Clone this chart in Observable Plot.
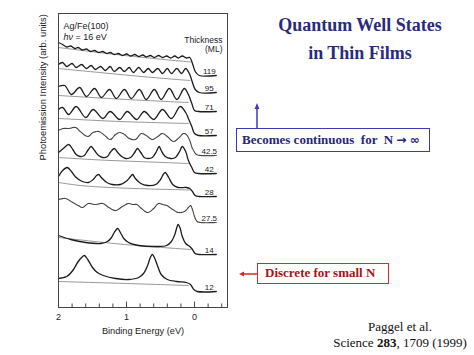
<!DOCTYPE html>
<html>
<head>
<meta charset="utf-8">
<script src="https://cdn.jsdelivr.net/npm/d3@7"></script>
<script src="https://cdn.jsdelivr.net/npm/@observablehq/plot@0.6"></script>
<style>
  html, body { margin: 0; padding: 0; background: #fff; }
  #slide { position: relative; width: 474px; height: 355px; overflow: hidden; background: #fff; }
  #slide > svg { position: absolute; left: 0; top: 0; }
  .serif { font-family: "Liberation Serif", "Times New Roman", serif; position: absolute; }
  .title { font-weight: bold; font-size: 18px; color: #2a2a7e; width: 220px; left: 250px; text-align: center; line-height: 18px; }
  .box { box-sizing: border-box; font-weight: bold; font-size: 13px; white-space: pre; }
  .sym { font-family: "DejaVu Sans", sans-serif; font-weight: bold; font-size: 12px; }
  .cite { font-size: 13px; color: #111; width: 200px; left: 300px; text-align: center; line-height: 14px; }
</style>
</head>
<body>
<div id="slide">
  <div class="serif title" style="top:16px">Quantum Well States</div>
  <div class="serif title" style="top:44px">in Thin Films</div>
  <div class="serif box" style="left:236px;top:128px;width:194px;height:24px;border:1.5px solid #3b3bb3;color:#26267a;padding-left:5px;line-height:21px;">Becomes continuous  for  N <span class="sym">→</span> <span class="sym">∞</span></div>
  <div class="serif box" style="left:257px;top:263px;width:132px;height:21px;border:1.5px solid #d42a2a;color:#a31515;padding-left:7px;line-height:18px;">Discrete for small N</div>
  <div class="serif cite" style="top:320px">Paggel et al.</div>
  <div class="serif cite" style="top:336px">Science <b>283</b>, 1709 (1999)</div>
</div>
<script>
// ---- Data (binding energy in eV, intensity in arb. units) ----
const thickness = ["119", "95", "71", "57", "42.5", "42", "28", "27.5", "14", "12"];
const energyTicks = [2, 1, 0];
const majorInnerTicks = [1, 0];
const minorTicks = [1.8, 1.6, 1.4, 1.2, 0.8, 0.6, 0.4, 0.2, -0.2, -0.4];

const s119 = [[2.00,265],[1.94,263],[1.88,260.5],[1.82,261.5],[1.76,259],[1.71,260],[1.65,257.5],[1.59,258.5],[1.53,256],[1.47,257],[1.41,255],[1.35,256],[1.29,254],[1.24,255],[1.18,253],[1.12,254],[1.06,252],[1.00,253.5],[0.94,251.5],[0.88,253],[0.82,251],[0.76,252.5],[0.71,250.5],[0.65,252],[0.59,250],[0.53,252],[0.47,250],[0.41,251.5],[0.35,249.5],[0.29,251.5],[0.24,249.5],[0.18,251.5],[0.12,249.5],[0.07,250],[0.03,244],[-0.01,236],[-0.07,232],[-0.32,232]];
const b119 = [[2.00,260],[1.03,252],[0.06,245.5]];

const s95 = [[2.00,243],[1.94,245],[1.88,241],[1.80,244],[1.74,240],[1.66,243],[1.59,239],[1.52,242],[1.46,238],[1.38,241],[1.31,237],[1.24,241],[1.18,236],[1.10,240],[1.03,236],[0.96,240],[0.90,235],[0.82,240],[0.75,235],[0.68,239],[0.62,235],[0.54,239],[0.47,234],[0.40,239],[0.34,234],[0.26,239],[0.19,234],[0.13,239],[0.07,233],[0.03,225],[-0.01,218],[-0.07,215],[-0.32,215]];
const b95 = [[2.00,239],[1.40,235],[0.70,230.5],[0.07,227]];

const s71 = [[2.00,221],[1.91,222],[1.81,213],[1.69,220],[1.59,211],[1.47,219],[1.37,210],[1.25,218],[1.15,209],[1.03,218],[0.93,209],[0.81,218],[0.71,208],[0.59,218],[0.49,208],[0.37,219],[0.26,208],[0.15,219],[0.09,213],[0.04,204],[0.00,197],[-0.06,196],[-0.32,196]];
const b71 = [[2.00,212],[1.00,208],[0.09,205]];

const s57 = [[2.00,198],[1.94,200],[1.85,193],[1.74,201],[1.60,190],[1.49,198],[1.35,189],[1.24,196],[1.10,188],[0.99,196],[0.85,188],[0.74,196],[0.60,188],[0.47,198],[0.34,189],[0.21,201],[0.13,195],[0.09,189],[0.04,181],[0.00,174],[-0.06,172],[-0.32,172]];
const b57 = [[2.00,189],[1.10,186],[0.09,184]];

const s42_5 = [[2.00,177],[1.93,179],[1.85,179],[1.75,180],[1.68,176],[1.57,171],[1.49,175],[1.41,176],[1.32,172],[1.24,168],[1.16,173],[1.10,175],[1.03,173],[0.96,169],[0.87,168],[0.78,174],[0.71,172],[0.62,168],[0.54,171],[0.47,174],[0.40,171],[0.31,166],[0.24,169],[0.16,174],[0.12,173],[0.07,167],[0.03,159],[-0.03,153],[-0.09,152],[-0.32,152]];

const s42 = [[2.00,155],[1.93,159],[1.85,163],[1.79,158],[1.74,153],[1.68,151],[1.62,152],[1.57,157],[1.52,161],[1.47,157],[1.41,152],[1.35,150],[1.28,151],[1.24,155],[1.18,159],[1.13,155],[1.07,151],[1.01,149],[0.94,150],[0.88,155],[0.84,159],[0.79,155],[0.74,150],[0.68,149],[0.62,150],[0.56,156],[0.52,161],[0.49,157],[0.43,151],[0.35,149],[0.28,150],[0.22,156],[0.18,161],[0.13,156],[0.09,147],[0.04,140],[0.00,135],[-0.06,134],[-0.32,134]];
const b42 = [[2.00,150],[1.38,147.5],[0.65,145.5],[0.09,144]];

const s28 = [[2.00,131],[1.94,137],[1.87,140],[1.81,136],[1.74,130],[1.65,126],[1.56,125],[1.49,128],[1.44,132],[1.41,133],[1.37,130],[1.29,125],[1.21,123],[1.09,123],[0.99,127],[0.94,131],[0.91,133],[0.87,129],[0.79,124],[0.69,122],[0.57,123],[0.50,128],[0.46,133],[0.43,135],[0.38,130],[0.32,123],[0.24,120],[0.12,120],[0.07,119],[0.03,116],[-0.01,112],[-0.07,111],[-0.32,111]];
const b28 = [[2.00,125],[1.68,122],[1.24,120],[0.65,118.5],[0.06,117.5]];

const s27_5 = [[2.00,108],[1.90,109],[1.79,105],[1.71,102],[1.65,100],[1.56,104],[1.46,103],[1.35,104],[1.26,100],[1.16,97],[1.06,101],[0.97,104],[0.91,103],[0.85,103],[0.78,99],[0.69,95],[0.60,99],[0.53,104],[0.47,103],[0.41,102],[0.32,98],[0.24,95],[0.15,96],[0.09,100],[0.06,102],[0.03,98],[0.00,91],[-0.04,86],[-0.09,85],[-0.32,85]];

const s14 = [[2.00,72],[1.82,68],[1.60,65],[1.38,64],[1.28,66],[1.22,70],[1.18,75],[1.13,79],[1.09,75],[1.04,69],[0.97,65],[0.82,62],[0.57,61],[0.41,62],[0.34,66],[0.29,73],[0.26,80],[0.24,83],[0.21,79],[0.18,71],[0.13,64],[0.07,61],[0.03,58],[-0.01,54],[-0.07,53],[-0.32,53]];
const b14 = [[2.00,70],[1.03,63],[0.06,58]];

const s12 = [[2.00,29],[1.88,31],[1.79,37],[1.71,46],[1.66,50],[1.62,52],[1.57,48],[1.50,40],[1.43,35],[1.34,32],[1.16,29],[0.97,28],[0.82,30],[0.75,34],[0.69,42],[0.65,50],[0.62,53],[0.59,50],[0.54,41],[0.49,33],[0.40,28],[0.26,26],[0.12,25],[0.06,23],[0.01,18],[-0.04,16],[-0.32,16]];
const b12 = [[2.00,26],[1.00,24],[0.09,22]];

const spectra = [
  {label: thickness[0], data: s119, bg: b119, dotted: false},
  {label: thickness[1], data: s95, bg: b95, dotted: false},
  {label: thickness[2], data: s71, bg: b71, dotted: false},
  {label: thickness[3], data: s57, bg: b57, dotted: false},
  {label: thickness[4], data: s42_5, bg: null, dotted: true},
  {label: thickness[5], data: s42, bg: b42, dotted: false},
  {label: thickness[6], data: s28, bg: b28, dotted: false},
  {label: thickness[7], data: s27_5, bg: null, dotted: true},
  {label: thickness[8], data: s14, bg: b14, dotted: false},
  {label: thickness[9], data: s12, bg: b12, dotted: false}
];

const toRows = (s, arr) => arr.map(([E, I]) => ({E, I, id: s.label}));
const solidRows = spectra.filter(s => !s.dotted).flatMap(s => toRows(s, s.data));
const dottedRows = spectra.filter(s => s.dotted).flatMap(s => toRows(s, s.data));
const bgRows = spectra.filter(s => s.bg).flatMap(s => toRows(s, s.bg));
const labelRows = spectra.map(s => { const [E, I] = s.data[s.data.length - 1]; return {E, I, label: s.label}; });

const chart = Plot.plot({
  width: 474,
  height: 355,
  marginLeft: 58,
  marginRight: 247,
  marginTop: 13,
  marginBottom: 48,
  x: {domain: [2, -0.485]},
  y: {domain: [0, 294], axis: null},
  style: {fontFamily: "'Liberation Sans', Arial, sans-serif", background: "transparent", color: "#222"},
  marks: [
    Plot.line(bgRows, {x: "E", y: "I", z: "id", stroke: "#8c8c8c", strokeWidth: 0.9, curve: "catmull-rom"}),
    Plot.line(solidRows, {x: "E", y: "I", z: "id", stroke: "#1c1c1c", strokeWidth: 1.3, curve: "catmull-rom"}),
    Plot.line(dottedRows, {x: "E", y: "I", z: "id", stroke: "#454545", strokeWidth: 1.15, strokeDasharray: "1.6,0.8", curve: "catmull-rom"}),
    Plot.text(labelRows, {x: "E", y: "I", text: "label", dx: -7, dy: -4.5, fontSize: 8, fill: "#222"}),
    Plot.ruleX(minorTicks, {y1: 0, y2: 3.5, stroke: "#333", strokeWidth: 0.9}),
    Plot.ruleX(majorInnerTicks, {y1: 0, y2: 5.5, stroke: "#333", strokeWidth: 0.9}),
    Plot.frame({stroke: "#444", strokeWidth: 1}),
    Plot.axisX({ticks: energyTicks, tickSize: 0, tickPadding: 6, fontSize: 9, label: null, tickFormat: d => `${d}`}),
    Plot.text(["Binding Energy (eV)"], {frameAnchor: "bottom", dy: 26, fontSize: 9.2, fill: "#222"}),
    Plot.text(["Photoemission Intensity (arb. units)"], {frameAnchor: "left", rotate: -90, dx: -16, fontSize: 9.4, fill: "#222"}),
    Plot.text(["Ag/Fe(100)"], {frameAnchor: "top-left", textAnchor: "start", dx: 5, dy: 9, fontSize: 9, fill: "#222"}),
    Plot.text(["hν"], {frameAnchor: "top-left", textAnchor: "start", dx: 5, dy: 20, fontSize: 9, fontStyle: "italic", fill: "#222"}),
    Plot.text(["= 16 eV"], {frameAnchor: "top-left", textAnchor: "start", dx: 17, dy: 20, fontSize: 9, fill: "#222"}),
    Plot.text(["Thickness"], {frameAnchor: "top-right", textAnchor: "end", dx: -5, dy: 23, fontSize: 8.5, fill: "#222"}),
    Plot.text(["(ML)"], {frameAnchor: "top-right", textAnchor: "end", dx: -5, dy: 32, fontSize: 8.5, fill: "#222"})
  ]
});
const slide = document.getElementById("slide");
slide.insertBefore(chart, slide.firstChild);

// arrows (slide decoration)
const ns = "http://www.w3.org/2000/svg";
const deco = document.createElementNS(ns, "svg");
deco.setAttribute("width", 474); deco.setAttribute("height", 355);
deco.style.position = "absolute"; deco.style.left = "0"; deco.style.top = "0"; deco.style.pointerEvents = "none";
deco.innerHTML = `
  <line x1="257" y1="128" x2="257" y2="108" stroke="#3b3bb3" stroke-width="1.5"/>
  <polygon points="254.6,109 259.4,109 257,103" fill="#3b3bb3"/>
  <line x1="257" y1="274" x2="243" y2="274" stroke="#d42a2a" stroke-width="1.5"/>
  <polygon points="244,271.6 244,276.4 239,274" fill="#d42a2a"/>`;
slide.appendChild(deco);
</script>
</body>
</html>
